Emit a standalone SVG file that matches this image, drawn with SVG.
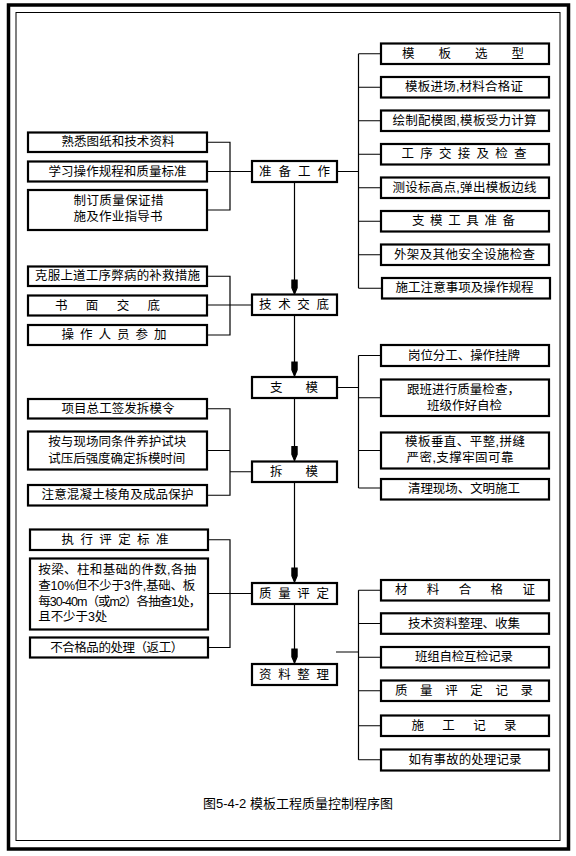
<svg xmlns="http://www.w3.org/2000/svg" xmlns:xlink="http://www.w3.org/1999/xlink" width="576" height="856" viewBox="0 0 576 856">
<style>
.b{fill:#fff;stroke:#000;stroke-width:2.2}
.c{fill:none;stroke:#000;stroke-width:1.2}
text{font-family:"Liberation Sans","Noto Sans CJK SC",sans-serif;font-size:12.5px;fill:#000;dominant-baseline:central}
.m{text-anchor:middle}
</style>
<defs>
<path id="ah" d="M-2.6,-14 H2.6 V-6 L0,0 L-2.6,-6 Z" fill="#000"/>
</defs>
<rect width="576" height="856" fill="#fff"/>
<g id="frame">
<rect x="8.5" y="5" width="560" height="844" fill="none" stroke="#000" stroke-width="3.5"/>
<rect x="16" y="12.5" width="544" height="828" fill="none" stroke="#000" stroke-width="1"/>
</g>
<g id="connectors" class="c">
<path d="M294.5,182 V664"/>
<path d="M337,171.5 H358.5 M358.5,53.75 V288.25 M358.5,53.75 H381 M358.5,87.25 H381 M358.5,120.75 H381 M358.5,154.25 H381 M358.5,187.75 H381 M358.5,221.25 H381 M358.5,254.75 H381 M358.5,288.25 H382"/>
<path d="M207,142.25 H230 V210 H207 M207,171.5 H252"/>
<path d="M207,276.25 H230 V335 H207 M207,305 H252"/>
<path d="M337,387.5 H358.5 M358.5,355.5 V488 M358.5,355.5 H381 M358.5,397.75 H381 M358.5,450.5 H381 M358.5,488 H381"/>
<path d="M207,408.75 H230 V495.25 H207 M207,450.5 H230 M230,471.75 H252"/>
<path d="M208,539.75 H230 V647.5 H208 M208,593.5 H252"/>
<path d="M336,652 H358.5 M358.5,590.25 V759.75 M358.5,590.25 H381 M358.5,623.5 H381 M358.5,657.25 H381 M358.5,690.75 H381 M358.5,725.75 H381 M358.5,759.75 H381"/>
<use xlink:href="#ah" x="294.5" y="294"/>
<use xlink:href="#ah" x="294.5" y="376"/>
<use xlink:href="#ah" x="294.5" y="460.5"/>
<use xlink:href="#ah" x="294.5" y="582"/>
<use xlink:href="#ah" x="294.5" y="663"/>
</g>
<g id="n-zhunbei"><rect class="b" x="252" y="161" width="85" height="21"/><text class="m" x="294.5" y="171.5" textLength="71">准 备 工 作</text></g>
<g id="n-jishu"><rect class="b" x="252" y="294.5" width="85" height="20.5"/><text class="m" x="294" y="304.75" textLength="70">技 术 交 底</text></g>
<g id="n-zhimo"><rect class="b" x="252" y="377" width="85" height="21"/><text class="m" x="294" y="387.5" textLength="48">支 模</text></g>
<g id="n-chaimo"><rect class="b" x="252" y="461.5" width="85" height="20.5"/><text class="m" x="294" y="471.75" textLength="48">拆 模</text></g>
<g id="n-zhiliang"><rect class="b" x="252" y="583" width="85" height="21"/><text class="m" x="294" y="593.5" textLength="70">质 量 评 定</text></g>
<g id="n-ziliao"><rect class="b" x="252" y="664" width="85" height="21"/><text class="m" x="294" y="674.5" textLength="70">资 料 整 理</text></g>

<g id="r1"><rect class="b" x="381" y="43.5" width="168" height="20.5"/><text class="m" x="463" y="53.75" textLength="122">模 板 选 型</text></g>
<g id="r2"><rect class="b" x="381" y="77" width="168" height="20.5"/><text class="m" x="464" y="87.25" textLength="118">模板进场,材料合格证</text></g>
<g id="r3"><rect class="b" x="381" y="110.5" width="168" height="20.5"/><text class="m" x="464.5" y="120.75" textLength="144">绘制配模图,模板受力计算</text></g>
<g id="r4"><rect class="b" x="381" y="144" width="168" height="20.5"/><text class="m" x="464" y="154.25" textLength="125">工 序 交 接 及 检 查</text></g>
<g id="r5"><rect class="b" x="381" y="177.5" width="168" height="20.5"/><text class="m" x="464.5" y="187.75" textLength="144">测设标高点,弹出模板边线</text></g>
<g id="r6"><rect class="b" x="381" y="211" width="168" height="20.5"/><text class="m" x="463.5" y="221.25" textLength="103">支 模 工 具 准 备</text></g>
<g id="r7"><rect class="b" x="381" y="244.5" width="168" height="20.5"/><text class="m" x="464.5" y="254.75" textLength="141">外架及其他安全设施检查</text></g>
<g id="r8"><rect class="b" x="382" y="278" width="168" height="20.5"/><text class="m" x="464.5" y="288.25" textLength="138">施工注意事项及操作规程</text></g>

<g id="l1"><rect class="b" x="28" y="132.5" width="179" height="19.5"/><text class="m" x="118" y="142.25" textLength="113">熟悉图纸和技术资料</text></g>
<g id="l2"><rect class="b" x="28" y="161.5" width="179" height="20"/><text class="m" x="117.5" y="171.5" textLength="138">学习操作规程和质量标准</text></g>
<g id="l3"><rect class="b" x="28" y="190" width="179" height="40"/><text x="73.5" y="200.5" textLength="90">制订质量保证措</text><text x="73.5" y="217" textLength="89">施及作业指导书</text></g>

<g id="l4"><rect class="b" x="28" y="266.5" width="179" height="19.5"/><text class="m" x="117.5" y="276.25" textLength="165">克服上道工序弊病的补救措施</text></g>
<g id="l5"><rect class="b" x="28" y="295.5" width="179" height="20"/><text class="m" x="107.5" y="305.5" textLength="105">书 面 交 底</text></g>
<g id="l6"><rect class="b" x="28" y="325" width="179" height="20"/><text class="m" x="114" y="335" textLength="105">操 作 人 员 参 加</text></g>

<g id="r9"><rect class="b" x="381" y="345" width="168" height="21"/><text class="m" x="464" y="355.5" textLength="112">岗位分工、操作挂牌</text></g>
<g id="r10"><rect class="b" x="381" y="379.5" width="168" height="36.5"/><text x="407" y="389.5" textLength="113">跟班进行质量检查，</text><text x="427" y="405.5" textLength="75">班级作好自检</text></g>
<g id="r11"><rect class="b" x="381" y="432.5" width="168" height="36"/><text x="405" y="441.5" textLength="120">模板垂直、平整,拼缝</text><text x="406.5" y="458" textLength="107">严密,支撑牢固可靠</text></g>
<g id="r12"><rect class="b" x="381" y="479" width="168" height="20.5"/><text class="m" x="464" y="489" textLength="112">清理现场、文明施工</text></g>

<g id="l7"><rect class="b" x="28" y="399" width="179" height="19.5"/><text class="m" x="118" y="408.75" textLength="113">项目总工签发拆模令</text></g>
<g id="l8"><rect class="b" x="28" y="431.5" width="179" height="38"/><text x="48.3" y="442" textLength="138">按与现场同条件养护试块</text><text x="48.3" y="458.5" textLength="137">试压后强度确定拆模时间</text></g>
<g id="l9"><rect class="b" x="28" y="485" width="179" height="20.5"/><text class="m" x="117.5" y="495.25" textLength="152">注意混凝土棱角及成品保护</text></g>

<g id="l10"><rect class="b" x="30" y="529.5" width="178" height="20.5"/><text class="m" x="115" y="539.75" textLength="107">执 行 评 定 标 准</text></g>
<g id="l11"><rect class="b" x="30" y="558.5" width="178" height="71"/><text x="38.3" y="570" textLength="158">按梁、柱和基础的件数,各抽</text><text x="38.3" y="586" textLength="157">查10%但不少于3件,基础、板</text><text x="38.3" y="601.7" textLength="163">每30-40m（或m2）各抽查1处，</text><text x="38.3" y="617.3" textLength="69">且不少于3处</text></g>
<g id="l12"><rect class="b" x="30" y="637.5" width="178" height="20"/><text class="m" x="116.7" y="647.5" textLength="133">不合格品的处理（返工）</text></g>

<g id="r13"><rect class="b" x="381" y="580" width="168" height="20.5"/><text class="m" x="465" y="590.25" textLength="140">材 料 合 格 证</text></g>
<g id="r14"><rect class="b" x="381" y="613.3" width="168" height="20.5"/><text class="m" x="464" y="623.5" textLength="112">技术资料整理、收集</text></g>
<g id="r15"><rect class="b" x="381" y="647" width="168" height="20.5"/><text class="m" x="464" y="657.25" textLength="98">班组自检互检记录</text></g>
<g id="r16"><rect class="b" x="381" y="680.5" width="168" height="20.5"/><text class="m" x="464" y="690.75" textLength="138">质 量 评 定 记 录</text></g>
<g id="r17"><rect class="b" x="381" y="715.5" width="168" height="20.5"/><text class="m" x="464" y="725.75" textLength="105">施 工 记 录</text></g>
<g id="r18"><rect class="b" x="381" y="749.5" width="168" height="21"/><text class="m" x="465" y="760" textLength="113">如有事故的处理记录</text></g>

<g id="caption"><text class="m" x="298" y="803" textLength="190" style="font-size:13px">图5-4-2 模板工程质量控制程序图</text></g>
</svg>
